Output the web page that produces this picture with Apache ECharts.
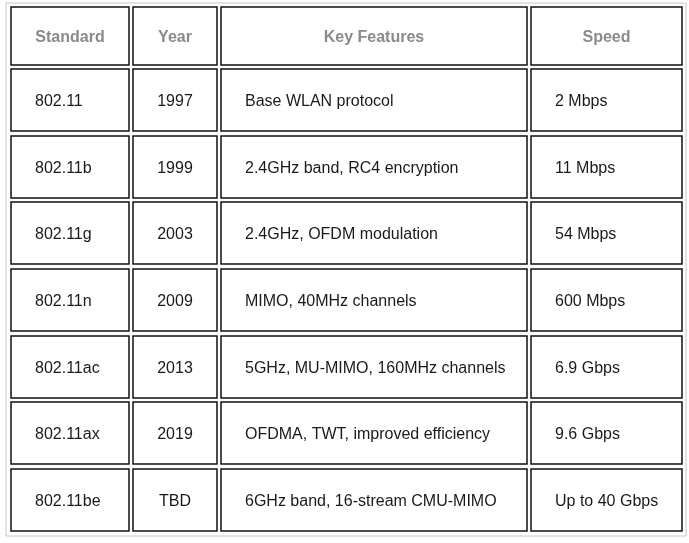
<!DOCTYPE html><html><head><meta charset="utf-8"><script src="https://cdn.jsdelivr.net/npm/echarts@6/dist/echarts.min.js"></script>
<style>html,body{margin:0;background:#fff}#c{width:689px;height:543px}</style></head><body><div id="c"></div><script>
var headers=['Standard','Year','Key Features','Speed'];
var standards=['802.11','802.11b','802.11g','802.11n','802.11ac','802.11ax','802.11be'];
var years=['1997','1999','2003','2009','2013','2019','TBD'];
var features=['Base WLAN protocol','2.4GHz band, RC4 encryption','2.4GHz, OFDM modulation','MIMO, 40MHz channels','5GHz, MU-MIMO, 160MHz channels','OFDMA, TWT, improved efficiency','6GHz band, 16-stream CMU-MIMO'];
var speeds=['2 Mbps','11 Mbps','54 Mbps','600 Mbps','6.9 Gbps','9.6 Gbps','Up to 40 Gbps'];
// layout
var colL=[11,133,221,531], colR=[129,217,527,682];
var rowT=[7,69,136,202,269,336,402,469], rowB=[65,131,198,264,331,398,464,531];
var align=['left','center','left','left'];
var data=[];
headers.forEach(function(h,c){data.push([c,0,h]);});
for(var r=0;r<standards.length;r++){[standards[r],years[r],features[r],speeds[r]].forEach(function(t,c){data.push([c,r+1,t]);});}
var chart=echarts.init(document.getElementById('c'));
chart.setOption({animation:false,
grid:{left:0,right:0,top:0,bottom:0},
xAxis:{type:'value',min:0,max:689,show:false},
yAxis:{type:'value',min:0,max:543,inverse:true,show:false},
graphic:[{type:'rect',shape:{x:6,y:3,width:680,height:533},style:{fill:'none',stroke:'#c8c8c8',lineWidth:1}}],
series:[{type:'custom',data:data,renderItem:function(p,api){
 var c=api.value(0),r=api.value(1),t=data[p.dataIndex][2];
 var a=api.coord([colL[c],rowT[r]]),b=api.coord([colR[c],rowB[r]]);
 var hdr=r===0, al=hdr?'center':align[c];
 var tx=al==='center'?(a[0]+b[0])/2:a[0]+24;
 return {type:'group',children:[
  {type:'rect',shape:{x:a[0],y:a[1],width:b[0]-a[0],height:b[1]-a[1]},style:{fill:'#fff',stroke:'#111',lineWidth:1.5}},
  {type:'text',style:{x:tx,y:(a[1]+b[1])/2+2,text:t,align:al,verticalAlign:'middle',fill:hdr?'#8a8a8a':'#1a1a1a',font:(hdr?'bold ':'')+'16px "Liberation Sans", Arial, sans-serif'}}
 ]};
}}]});
</script></body></html>
